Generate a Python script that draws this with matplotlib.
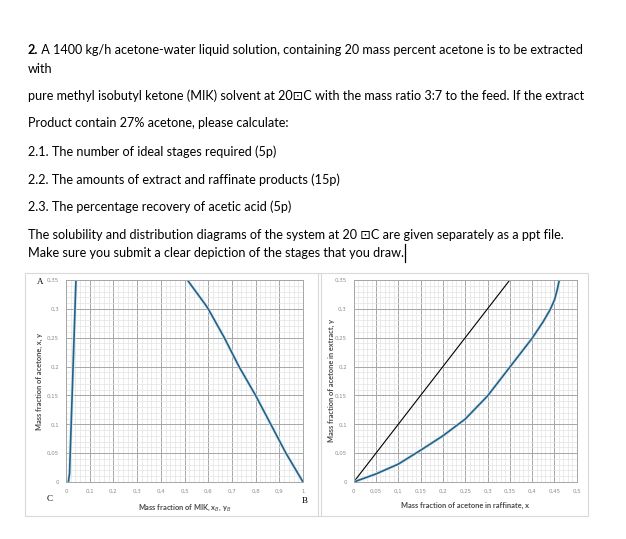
import matplotlib
matplotlib.use("Agg")
import matplotlib.pyplot as plt
from matplotlib.ticker import MultipleLocator, FuncFormatter
from matplotlib.patches import Rectangle
import numpy as np

# ---- data ----
raff_mik = [0.010, 0.015, 0.042]
raff_acetone = [0.0, 0.015, 0.35]
ext_mik = [0.512, 0.587, 0.600, 0.668, 0.730, 0.800, 0.864, 0.928, 1.000]
ext_acetone = [0.35, 0.308, 0.300, 0.250, 0.200, 0.150, 0.100, 0.050, 0.0]

dist_x = [0.0, 0.025, 0.05, 0.10, 0.15, 0.20, 0.25, 0.30, 0.35, 0.40, 0.425, 0.44, 0.45, 0.456, 0.461]
dist_y = [0.0, 0.007, 0.014, 0.031, 0.055, 0.080, 0.109, 0.149, 0.199, 0.249, 0.278, 0.298, 0.315, 0.332, 0.35]
diag_x = [0.0, 0.35]
diag_y = [0.0, 0.35]

text_lines = [
    ("2.", " A 1400 kg/h acetone-water liquid solution, containing 20 mass percent acetone is to be extracted", 50),
    ("", "with", 69),
    ("", "pure methyl isobutyl ketone (MIK) solvent at 20\u22a1C with the mass ratio 3:7 to the feed. If the extract", 96),
    ("", "Product contain 27% acetone, please calculate:", 123),
    ("", "2.1. The number of ideal stages required (5p)", 152),
    ("", "2.2. The amounts of extract and raffinate products (15p)", 180),
    ("", "2.3. The percentage recovery of acetic acid (5p)", 207),
    ("", "The solubility and distribution diagrams of the system at 20 \u22a1C are given separately as a ppt file.", 235),
    ("", "Make sure you submit a clear depiction of the stages that you draw.", 253),
]

W, H = 626, 539
fig = plt.figure(figsize=(W / 100, H / 100), dpi=100)
fig.patch.set_facecolor("white")

FAM = ["Lato", "DejaVu Sans"]
fs_text = 9.05

def fx(px):
    return px / W

def fy(py):
    return 1 - py / H

# ---- paragraph text ----
last = None
for bold, rest, ypx in text_lines:
    if bold:
        t = fig.text(fx(28), fy(ypx), bold, fontsize=fs_text, family=FAM,
                     fontweight="bold", va="center", ha="left", color="black")
        fig.canvas.draw()
        bb = t.get_window_extent()
        fig.text(bb.x1 / W, fy(ypx), rest, fontsize=fs_text, family=FAM,
                 va="center", ha="left", color="black")
    else:
        last = fig.text(fx(28), fy(ypx), rest, fontsize=fs_text, family=FAM,
                        va="center", ha="left", color="black")
# cursor after last line
fig.canvas.draw()
bb = last.get_window_extent()
fig.add_artist(plt.Line2D([bb.x1 / W + 0.002] * 2, [fy(262), fy(244)],
                          color="black", lw=0.9))

# ---- chart frames ----
fig.add_artist(Rectangle((fx(25), fy(516)), (321 - 25) / W, (516 - 273) / H,
                         transform=fig.transFigure, fill=False,
                         edgecolor="#d9d9d9", lw=0.8))
fig.add_artist(Rectangle((fx(318), fy(516)), (588 - 318) / W, (516 - 273) / H,
                         transform=fig.transFigure, fill=False,
                         edgecolor="#d9d9d9", lw=0.8))

major_c = "#a6a6a6"
minor_c = "#e3e3e3"
curve_c = "#2a5f82"
halo_c = "#cdeaf5"
tick_c = "#8c8c8c"
label_c = "#4a4a4a"

def comma_fmt(v, pos):
    s = ("%.2f" % v).rstrip("0").rstrip(".")
    return s.replace(".", ",")

def style_axes(ax, xmax, xmaj, xmin):
    ax.set_xlim(0, xmax)
    ax.set_ylim(0, 0.35)
    ax.xaxis.set_major_locator(MultipleLocator(xmaj))
    ax.xaxis.set_minor_locator(MultipleLocator(xmin))
    ax.yaxis.set_major_locator(MultipleLocator(0.05))
    ax.yaxis.set_minor_locator(MultipleLocator(0.01))
    ax.grid(which="minor", color=minor_c, lw=0.5)
    ax.grid(which="major", color=major_c, lw=0.7)
    ax.set_axisbelow(True)
    for s in ax.spines.values():
        s.set_color(major_c)
        s.set_linewidth(0.7)
    ax.tick_params(which="both", length=0, labelsize=3.9, labelcolor=tick_c, pad=5)
    ax.xaxis.set_major_formatter(FuncFormatter(comma_fmt))
    ax.yaxis.set_major_formatter(FuncFormatter(comma_fmt))

def curve(ax, x, y):
    ax.plot(x, y, color=halo_c, lw=2.2, solid_capstyle="round", solid_joinstyle="round")
    ax.plot(x, y, color=curve_c, lw=1.2, solid_joinstyle="round")

# left: solubility diagram
ax1 = fig.add_axes([fx(66), fy(482), (303 - 66) / W, (482 - 280) / H])
style_axes(ax1, 1.0, 0.1, 0.02)
curve(ax1, raff_mik, raff_acetone)
curve(ax1, ext_mik, ext_acetone)
ax1.set_xlabel("Mass fraction of MIK, x$_B$, y$_B$", fontsize=5.3, color=label_c,
               family=FAM, labelpad=6, fontweight="bold")
ax1.set_ylabel("Mass fraction of acetone, x, y", fontsize=5.3, color=label_c,
               family=FAM, labelpad=3, fontweight="bold")
fig.text(fx(40), fy(282), "A", fontsize=6.5, family="Liberation Serif", ha="center", va="center")
fig.text(fx(50), fy(499), "C", fontsize=6.5, family="Liberation Serif", ha="center", va="center")
fig.text(fx(305), fy(501), "B", fontsize=6.5, family="Liberation Serif", ha="center", va="center")

# right: distribution diagram
ax2 = fig.add_axes([fx(353.7), fy(482), (576.7 - 353.7) / W, (482 - 280) / H])
style_axes(ax2, 0.5, 0.05, 0.01)
ax2.plot(diag_x, diag_y, color="black", lw=0.8)
curve(ax2, dist_x, dist_y)
ax2.set_xlabel("Mass fraction of acetone in raffinate, x", fontsize=5.3, color=label_c,
               family=FAM, labelpad=6, fontweight="bold")
ax2.set_ylabel("Mass fraction of acetone in extract, y", fontsize=5.3, color=label_c,
               family=FAM, labelpad=0, fontweight="bold")

fig.savefig("out.png", dpi=100, facecolor="white")
